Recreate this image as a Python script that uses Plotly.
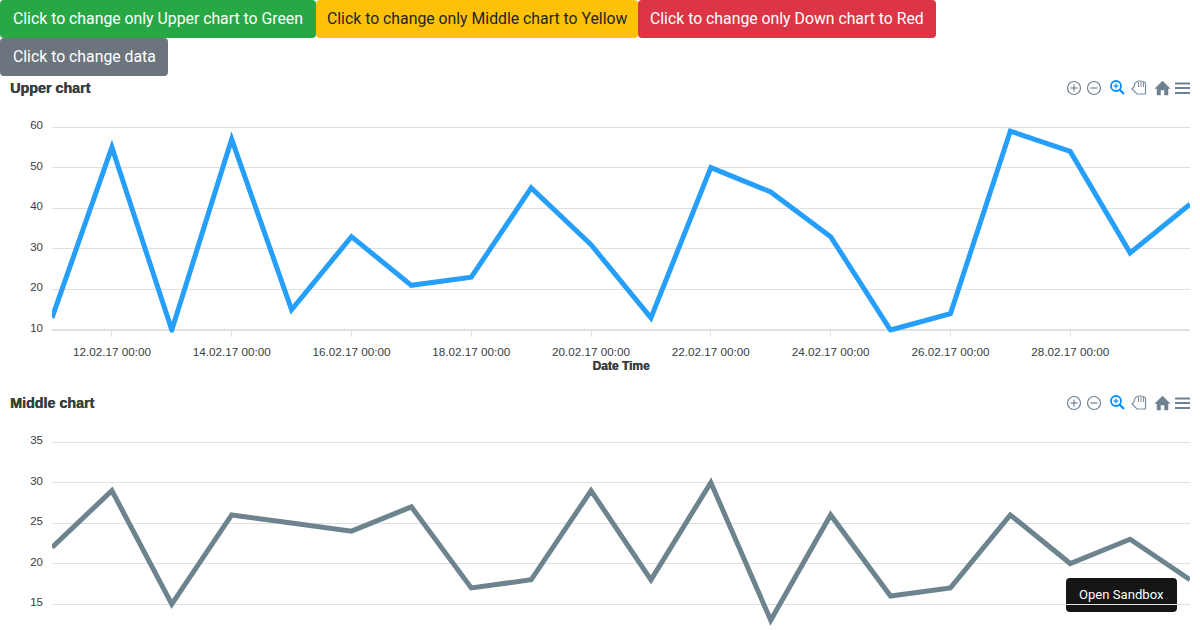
import plotly.graph_objects as go

WIDTH = 1200
HEIGHT = 630

dates = ["2017-02-11", "2017-02-12", "2017-02-13", "2017-02-14", "2017-02-15",
         "2017-02-16", "2017-02-17", "2017-02-18", "2017-02-19", "2017-02-20",
         "2017-02-21", "2017-02-22", "2017-02-23", "2017-02-24", "2017-02-25",
         "2017-02-26", "2017-02-27", "2017-02-28", "2017-03-01", "2017-03-02"]
upper_values = [13, 55, 10, 57, 15, 33, 21, 23, 45, 31, 13, 50, 44, 33, 10, 14, 59, 54, 29, 41]
middle_values = [22, 29, 15, 26, 25, 24, 27, 17, 18, 29, 18, 30, 13, 26, 16, 17, 26, 20, 23, 18]

tick_dates = ["2017-02-12", "2017-02-14", "2017-02-16", "2017-02-18", "2017-02-20",
              "2017-02-22", "2017-02-24", "2017-02-26", "2017-02-28"]
tick_labels = ["12.02.17 00:00", "14.02.17 00:00", "16.02.17 00:00", "18.02.17 00:00",
               "20.02.17 00:00", "22.02.17 00:00", "24.02.17 00:00", "26.02.17 00:00",
               "28.02.17 00:00"]
upper_ticks = [10, 20, 30, 40, 50, 60]
middle_ticks = [15, 20, 25, 30, 35]

buttons = [
    ("Click to change only Upper chart to Green", 0, 0, 316, 38, "#28a745", "#ffffff"),
    ("Click to change only Middle chart to Yellow", 316, 0, 638, 38, "#ffc107", "#212529"),
    ("Click to change only Down chart to Red", 638, 0, 936, 38, "#dc3545", "#ffffff"),
    ("Click to change data", 0, 38, 168, 76, "#6c757d", "#ffffff"),
]

TEXT = "#373d3f"
GRID = "#e0e0e0"
ICON = "#6e8192"
HEAVY = "0.4px 0 0 #373d3f"


def px(x):
    return x / WIDTH


def py(y):
    return 1 - y / HEIGHT


def rounded(x0, y0, x1, y1, r, color):
    path = (f"M{px(x0 + r)},{py(y0)} L{px(x1 - r)},{py(y0)} "
            f"Q{px(x1)},{py(y0)} {px(x1)},{py(y0 + r)} L{px(x1)},{py(y1 - r)} "
            f"Q{px(x1)},{py(y1)} {px(x1 - r)},{py(y1)} L{px(x0 + r)},{py(y1)} "
            f"Q{px(x0)},{py(y1)} {px(x0)},{py(y1 - r)} L{px(x0)},{py(y0 + r)} "
            f"Q{px(x0)},{py(y0)} {px(x0 + r)},{py(y0)} Z")
    return dict(type="path", xref="paper", yref="paper", path=path,
                fillcolor=color, line=dict(width=0), layer="below")


def poly(points, fill=None, color=ICON, width=1.2):
    path = "M" + " L".join(f"{px(x)},{py(y)}" for x, y in points)
    if fill:
        path += " Z"
    return dict(type="path", xref="paper", yref="paper", path=path,
                fillcolor=fill if fill else "rgba(0,0,0,0)",
                line=dict(color=color, width=width))


def circle(cx, cy, r, color=ICON, width=1.2):
    return dict(type="circle", xref="paper", yref="paper",
                x0=px(cx - r), x1=px(cx + r), y0=py(cy + r), y1=py(cy - r),
                line=dict(color=color, width=width))


def toolbar(y):
    items = [
        circle(1074, y, 6.5),
        poly([(1070.5, y), (1077.5, y)]),
        poly([(1074, y - 3.5), (1074, y + 3.5)]),
        circle(1094, y, 6.5),
        poly([(1090.5, y), (1097.5, y)]),
        # zoom
        circle(1116, y - 2, 5, "#008ffb", 1.8),
        poly([(1119.5, y + 1.5), (1124, y + 6)], color="#008ffb", width=2.2),
        poly([(1113.5, y - 2), (1118.5, y - 2)], color="#008ffb", width=1.2),
        poly([(1116, y - 4.5), (1116, y + 0.5)], color="#008ffb", width=1.2),
        # pan hand
        poly([(1132, y + 1), (1134, y - 1), (1135, y - 5), (1136.5, y - 6), (1138, y - 7),
              (1141, y - 7), (1144, y - 6), (1145.5, y - 5), (1145.5, y + 6), (1137, y + 6)],
             fill="#ffffff", color="#7d8f9b", width=1.2),
        poly([(1138.5, y - 6), (1138.5, y - 1)], color="#7d8f9b", width=1),
        poly([(1141, y - 6), (1141, y - 1)], color="#7d8f9b", width=1),
        poly([(1143.5, y - 6), (1143.5, y - 1)], color="#7d8f9b", width=1),
        # home
        poly([(1155, y + 0.5), (1162.5, y - 7), (1170, y + 0.5), (1168, y + 0.5), (1168, y + 7),
              (1164.5, y + 7), (1164.5, y + 2), (1160.5, y + 2), (1160.5, y + 7), (1157, y + 7),
              (1157, y + 0.5)], fill=ICON, width=0.5),
        # menu
        poly([(1175, y - 4.5), (1190, y - 4.5)], width=2),
        poly([(1175, y), (1190, y)], width=2),
        poly([(1175, y + 5), (1190, y + 5)], width=2),
    ]
    return items


fig = go.Figure()
fig.add_trace(go.Scatter(x=dates, y=upper_values, mode="lines", xaxis="x", yaxis="y",
                         line=dict(color="#269ffb", width=5), showlegend=False))
fig.add_trace(go.Scatter(x=dates, y=middle_values, mode="lines", xaxis="x2", yaxis="y2",
                         line=dict(color="#6d838e", width=5), showlegend=False))

shapes = []
annotations = []
for label, x0, y0, x1, y1, color, text_color in buttons:
    shapes.append(rounded(x0, y0, x1, y1, 4, color))
    annotations.append(dict(text=label, xref="paper", yref="paper", x=px((x0 + x1) / 2), y=py((y0 + y1) / 2 - 0.5),
                            xanchor="center", yanchor="middle", showarrow=False,
                            font=dict(family="Roboto", size=15.8, color=text_color)))

shapes.extend(toolbar(88))
shapes.extend(toolbar(403))

for title, y in [("Upper chart", 88), ("Middle chart", 403)]:
    annotations.append(dict(text=f"<b>{title}</b>", xref="paper", yref="paper", x=px(8), y=py(y),
                            xanchor="left", yanchor="middle", showarrow=False,
                            font=dict(family="Liberation Sans", size=14.3, color=TEXT, shadow=HEAVY)))

shapes.append(rounded(1066, 578, 1177, 612, 4, "#151515"))
annotations.append(dict(text="Open Sandbox", xref="paper", yref="paper", x=px(1121.5), y=py(594.5),
                        xanchor="center", yanchor="middle", showarrow=False,
                        font=dict(family="Roboto", size=13.1, color="#ffffff")))

x_range = [dates[0], dates[-1]]
y_style = dict(showgrid=True, gridcolor=GRID, gridwidth=1, zeroline=False, showline=False, automargin=False,
               ticks="", ticklabelstandoff=8, ticklabelshift=-2,
               tickfont=dict(family="Liberation Sans", size=11.5, color=TEXT))

fig.update_layout(
    width=WIDTH, height=HEIGHT, autosize=False,
    margin=dict(l=0, r=0, t=0, b=0),
    paper_bgcolor="#ffffff", plot_bgcolor="#ffffff",
    font=dict(family="Liberation Sans", color=TEXT),
    hovermode=False,
    shapes=shapes,
    annotations=annotations,
    xaxis=dict(domain=[px(52), px(1190)], range=x_range, type="date", automargin=False,
               anchor="free", position=py(330), layer="below traces",
               tickvals=tick_dates, ticktext=tick_labels,
               showgrid=False, zeroline=False, showline=True, linecolor=GRID, linewidth=2,
               ticks="outside", ticklen=6, tickcolor=GRID, tickwidth=1, ticklabelstandoff=5,
               tickfont=dict(family="Liberation Sans", size=11.7, color=TEXT),
               title=dict(text="<b>Date Time</b>", standoff=4,
                          font=dict(family="Liberation Sans", size=12, color=TEXT, shadow=HEAVY))),
    # small overshoot on both ends so the thick line is cut just past the axis like the original
    yaxis=dict(domain=[py(332.4), py(125)], range=[9.41, 60.5], tickvals=upper_ticks, **y_style),
    xaxis2=dict(domain=[px(52), px(1190)], range=x_range, type="date", anchor="y2", automargin=False,
                showgrid=False, zeroline=False, showticklabels=False, ticks=""),
    yaxis2=dict(domain=[py(630), py(440)], range=[11.8, 35.25], tickvals=middle_ticks, anchor="x2", **y_style),
)

# pointed line joins, plotly bevels them by default
post = ("document.body.style.margin='0';"
        "document.querySelectorAll('.js-line').forEach(p => p.style.strokeMiterlimit = '10');")
fig.write_html("out.html", config={"displayModeBar": False}, post_script=post)
